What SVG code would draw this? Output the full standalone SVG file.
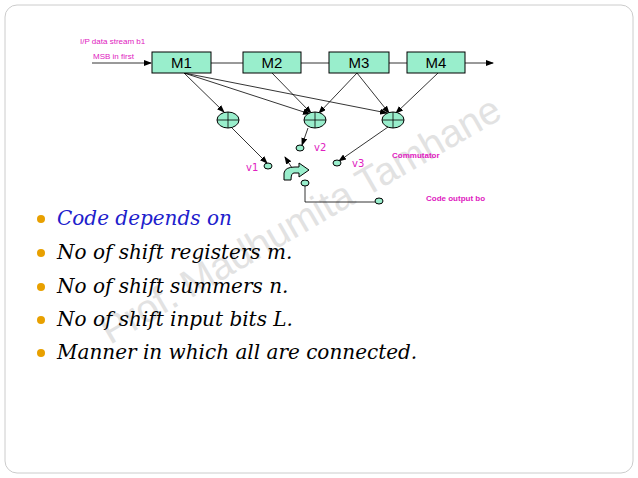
<svg xmlns="http://www.w3.org/2000/svg" width="638" height="478" viewBox="0 0 638 478">
<defs><marker id="a" markerWidth="8" markerHeight="6" refX="7" refY="3" orient="auto" markerUnits="userSpaceOnUse"><path d="M0,0L8,3L0,6z" fill="#000"/></marker></defs>
<style>
.b{fill:#99eecc;stroke:#000;stroke-width:1}
.m{font:15px "Liberation Sans",sans-serif;text-anchor:middle}
.p{font:8px "Liberation Sans",sans-serif;fill:#e020c0}
.pb{font:bold 8px "Liberation Sans",sans-serif;fill:#e020c0}
.v{font:10px "DejaVu Sans",sans-serif;fill:#e020c0}
.l{stroke:#000;stroke-width:0.8;fill:none}
.t{font:italic 20px "DejaVu Serif",serif}
</style>
<rect x="5" y="5" width="628" height="468" rx="12" fill="#fff" stroke="#ccc"/>
<text transform="translate(110,345) rotate(-30)" font-family="Liberation Sans,sans-serif" font-size="39" fill="#e2e2e2" textLength="455">Prof. Madhumita Tamhane</text>
<text x="80" y="44" class="p">I/P data stream b1</text>
<text x="93" y="59" class="p">MSB in first</text>
<g id="connectors">
<line x1="92" y1="63" x2="151" y2="63" class="l" marker-end="url(#a)"/>
<line x1="211" y1="63" x2="243" y2="63" class="l"/>
<line x1="301" y1="63" x2="329" y2="63" class="l"/>
<line x1="389" y1="63" x2="407" y2="63" class="l"/>
<line x1="465" y1="63" x2="493" y2="63" class="l" marker-end="url(#a)"/>
<line x1="184" y1="73" x2="224" y2="112" class="l" marker-end="url(#a)"/>
<line x1="184" y1="73" x2="310" y2="114" class="l" marker-end="url(#a)"/>
<line x1="184" y1="73" x2="387" y2="113" class="l" marker-end="url(#a)"/>
<line x1="272" y1="73" x2="311" y2="113" class="l" marker-end="url(#a)"/>
<line x1="357" y1="73" x2="319" y2="113" class="l" marker-end="url(#a)"/>
<line x1="357" y1="73" x2="389" y2="113" class="l" marker-end="url(#a)"/>
<line x1="438" y1="73" x2="396" y2="113" class="l" marker-end="url(#a)"/>
<line x1="232" y1="128" x2="267" y2="163" class="l" marker-end="url(#a)"/>
<line x1="308" y1="128" x2="302" y2="145" class="l" marker-end="url(#a)"/>
<line x1="388" y1="127" x2="339" y2="161" class="l" marker-end="url(#a)"/>
<polyline points="305,186 305,202 375,202" class="l"/>
<line x1="292" y1="168" x2="285" y2="157" class="l" marker-end="url(#a)"/>
</g>
<g id="M1"><rect x="152" y="52" width="59" height="21" class="b"/><text x="181.5" y="68" class="m">M1</text></g>
<g id="M2"><rect x="243" y="52" width="58" height="21" class="b"/><text x="272" y="68" class="m">M2</text></g>
<g id="M3"><rect x="329" y="52" width="60" height="21" class="b"/><text x="359" y="68" class="m">M3</text></g>
<g id="M4"><rect x="407" y="52" width="58" height="21" class="b"/><text x="436" y="68" class="m">M4</text></g>
<g id="S1"><ellipse cx="228" cy="120" rx="11" ry="8" class="b"/><path d="M217,120h22M228,112v16" class="l"/></g>
<g id="S2"><ellipse cx="315" cy="120" rx="11" ry="8" class="b"/><path d="M304,120h22M315,112v16" class="l"/></g>
<g id="S3"><ellipse cx="393" cy="120" rx="11" ry="8" class="b"/><path d="M382,120h22M393,112v16" class="l"/></g>
<g id="dots">
<ellipse cx="300" cy="148" rx="4" ry="3" class="b"/>
<ellipse cx="268" cy="166" rx="4" ry="3" class="b"/>
<ellipse cx="337" cy="163" rx="4" ry="3" class="b"/>
<ellipse cx="305" cy="183" rx="4" ry="3" class="b"/>
<ellipse cx="379" cy="201" rx="4" ry="3" class="b"/>
</g>
<g id="commutator"><path d="M284,180 L284,173 Q285,167 295,167 L299,167 L299,163 L309,170 L299,177 L299,173 L294,173 Q291,173 291,180 Z" class="b"/></g>
<text x="314" y="151" class="v">v2</text>
<text x="246" y="171" class="v">v1</text>
<text x="352" y="167" class="v">v3</text>
<text x="392" y="158" class="pb">Commutator</text>
<text x="426" y="201" class="pb">Code output bo</text>
<g fill="#e8a000"><circle cx="41" cy="219" r="4"/><circle cx="41" cy="253" r="4"/><circle cx="41" cy="287" r="4"/><circle cx="41" cy="320" r="4"/><circle cx="41" cy="353" r="4"/></g>
<text x="57" y="225" class="t" fill="#2020cc">Code depends on</text>
<text x="57" y="259" class="t">No of shift registers m.</text>
<text x="57" y="293" class="t">No of shift summers n.</text>
<text x="57" y="326" class="t">No of shift input bits L.</text>
<text x="57" y="359" class="t">Manner in which all are connected.</text>
</svg>
